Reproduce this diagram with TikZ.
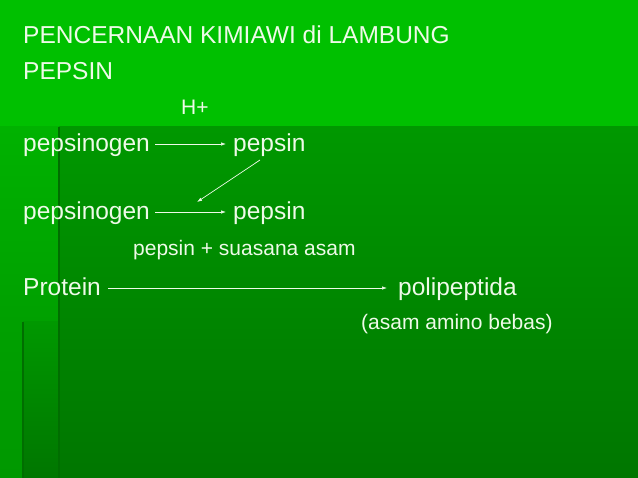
\documentclass[tikz,border=0pt]{standalone}
\usepackage{fontspec}
\setmainfont{Liberation Sans}
\usetikzlibrary{calc}
\usetikzlibrary{arrows.meta}

\definecolor{slideTop}{RGB}{0,192,0}
\definecolor{slideLow}{RGB}{0,152,0}
\definecolor{slideBottom}{RGB}{0,118,0}
\definecolor{slideStrip}{RGB}{0,178,0}
\definecolor{slideStripLow}{RGB}{0,160,0}
\definecolor{slideLine}{RGB}{0,110,0}
\definecolor{slideText}{RGB}{238,250,232}

\begin{document}
\begin{tikzpicture}[x=1pt,y=1pt,
	word/.style={anchor=base west,inner sep=0pt,text=slideText,font=\fontsize{24.5}{28}\selectfont},
	smallword/.style={word,font=\fontsize{21}{25}\selectfont},
	arr/.style={draw=slideText,line width=0.7pt,-{Latex[length=5pt,width=3.5pt]}}]

\useasboundingbox (0,0) rectangle (638,-478);

\begin{scope}
	\fill[slideTop] (0,0) rectangle (638,-127);
	\shade[top color=slideLow,bottom color=slideBottom] (59,-127) rectangle (638,-478);
	\shade[top color=slideStrip,bottom color=slideStripLow] (0,-127) rectangle (59,-322);
	\shade[top color=slideStripLow,bottom color=slideLow] (0,-322) rectangle (23,-478);
	\shade[top color=slideLow,bottom color=slideBottom] (23,-322) rectangle (59,-478);
	\draw[slideLine,line width=1.5pt] (23,-322) -- (23,-478);
	\draw[slideLine,line width=1.5pt] (59,-127) -- (59,-478);
\end{scope}

\node[word] (title) at (23,-44) {PENCERNAAN KIMIAWI di LAMBUNG};
\node[word] (pepsinName) at (23,-80) {PEPSIN};
\node[smallword] (hplus) at (181,-115) {H+};
\node[word] (pg1) at (23,-152) {pepsinogen};
\node[word] (p1) at (233,-152) {pepsin};
\node[word] (pg2) at (23,-220) {pepsinogen};
\node[word] (p2) at (233,-220) {pepsin};
\node[smallword] (cond) at (133,-256) {pepsin + suasana asam};
\node[word] (prot) at (23,-296) {Protein};
\node[word] (poly) at (398,-296) {polipeptida};
\node[smallword] (amino) at (361,-330) {(asam amino bebas)};

\draw[arr] ($(pg1.base east)+(5,8)$) -- ($(p1.base west)+(-7,8)$);
\draw[arr] ($(p1.base west)+(27,-8)$) -- ($(pg2.base east)+(47,18)$);
\draw[arr] ($(pg2.base east)+(5,8)$) -- ($(p2.base west)+(-7,8)$);
\draw[arr] ($(prot.base east)+(7,8)$) -- ($(poly.base west)+(-11,8)$);

\end{tikzpicture}
\end{document}
